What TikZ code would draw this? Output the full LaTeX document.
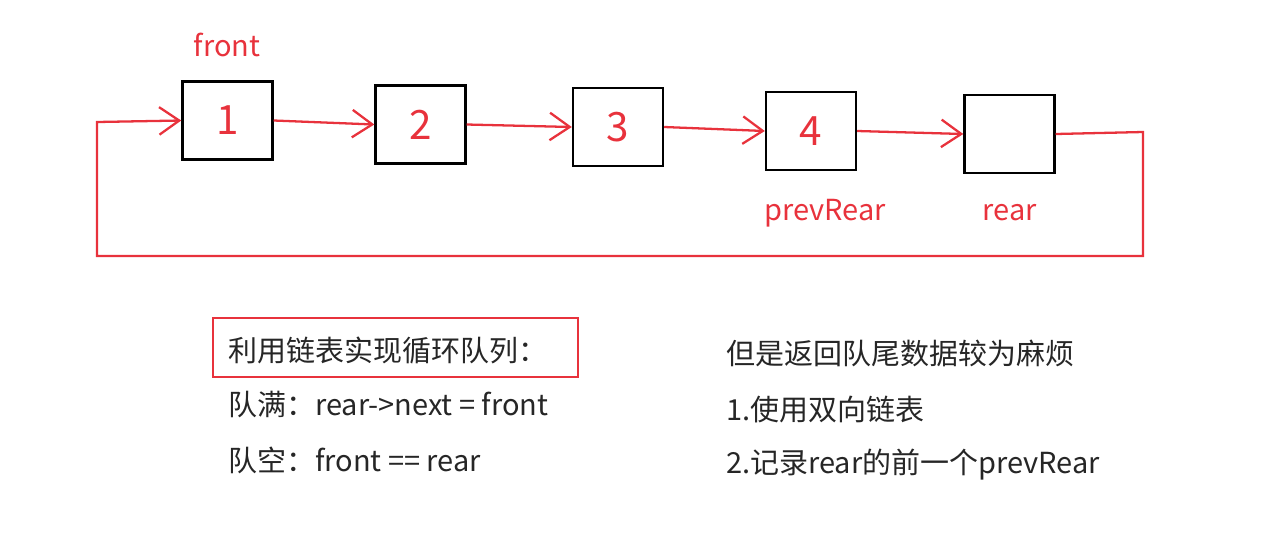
\documentclass[tikz,border=0pt]{standalone}
\usepackage{fontspec}
\setmainfont{Noto Sans CJK SC}
\usetikzlibrary{arrows.meta}
\definecolor{rd}{RGB}{232,50,60}
\begin{document}
\begin{tikzpicture}[x=0.02cm,y=-0.02cm,
  cell/.style={draw,line width=1.4pt,minimum width=1.8cm,minimum height=1.56cm,inner sep=0,font=\fontsize{23}{27}\selectfont,text=rd},
  link/.style={draw=rd,line width=1.3pt,-{Straight Barb[length=0.4cm,width=0.55cm,line width=1.3pt]}},
  lab/.style={text=rd,font=\fontsize{16.5}{19}\selectfont},
  txt/.style={anchor=west,font=\fontsize{16.5}{19}\selectfont,text=black!85}]
\useasboundingbox (0,0) rectangle (1269,542);
\node[cell] (b1) at (227.5,120.5) {1};
\node[cell] (b2) at (420.5,124.5) {2};
\node[cell] (b3) at (618,127) {3};
\node[cell] (b4) at (811,131) {4};
\node[cell] (b5) at (1009.5,134) {};
\draw[link] (b1.east) -- (b2.west);
\draw[link] (b2.east) -- (b3.west);
\draw[link] (b3.east) -- (b4.west);
\draw[link] (b4.east) -- (b5.west);
\draw[link] (b5.east) -- (1143,132) -- (1143,256) -- (97,256) -- (97,122) -- (b1.west);
\node[lab] (lf) at (227,45) {front};
\node[lab] (lp) at (825,213) {prevRear};
\node[lab] (lr) at (1010,213) {rear};
\node[draw=rd,line width=1.3pt,minimum width=7.3cm,minimum height=1.18cm] (hb) at (395.5,347.5) {};
\node[txt] (t1) at (222,350) {利用链表实现循环队列：};
\node[txt] (t2) at (222,405) {队满：rear->next = front};
\node[txt] (t3) at (222,460) {队空：front == rear};
\node[txt] (r1) at (720,353) {但是返回队尾数据较为麻烦};
\node[txt] (r2) at (720,410) {1.使用双向链表};
\node[txt] (r3) at (720,465) {2.记录rear的前一个prevRear};
\end{tikzpicture}
\end{document}
